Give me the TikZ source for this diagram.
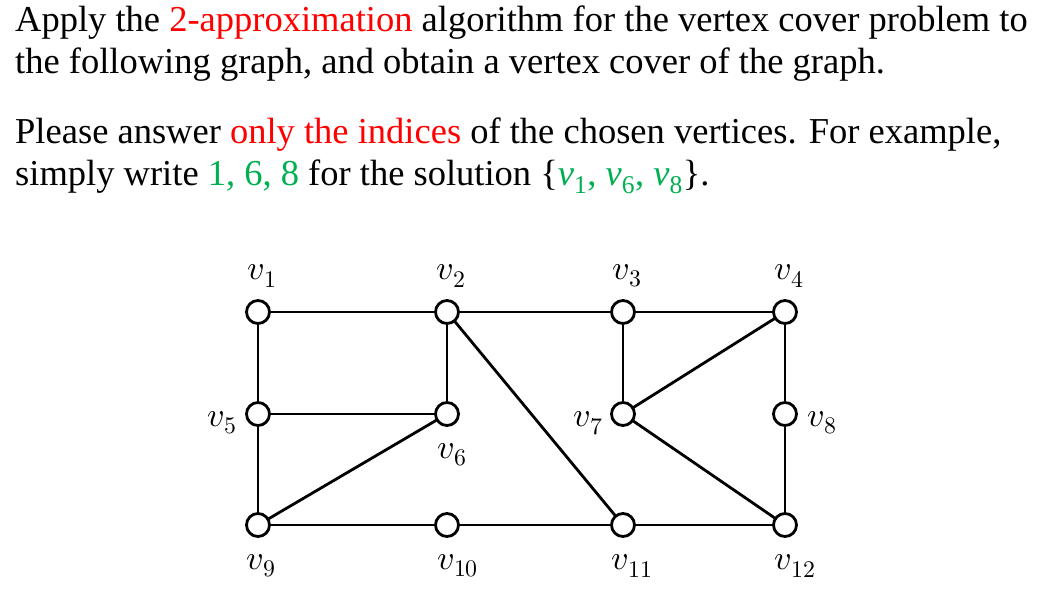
\documentclass[tikz,border=0pt]{standalone}
\usepackage{fontspec}
\setmainfont{Liberation Serif}
\newfontfamily\lmm{Latin Modern Math}
\definecolor{grn}{RGB}{0,176,80}
\definecolor{rd}{RGB}{255,0,0}
\newcommand{\vv}[1]{{\lmm 𝑣\textsubscript{#1}}}
\begin{document}
\begin{tikzpicture}[x=1pt,y=-1pt,
  vtx/.style={circle,draw,line width=2.8pt,fill=white,minimum size=23pt,inner sep=0},
  edge/.style={line width=2.8pt},
  txt/.style={anchor=base west,inner sep=0,font=\fontsize{36.5}{40}\selectfont},
  lab/.style={inner sep=0,font=\fontsize{34}{38}\selectfont}]
\useasboundingbox (0,0) rectangle (1047,614);
\node[txt] (t1) at (15,31) {Apply the \textcolor{rd}{2-approximation} algorithm for the vertex cover problem to};
\node[txt] (t2) at (15,73) {the following graph, and obtain a vertex cover of the graph.};
\node[txt] (t3) at (15,143) {Please answer \textcolor{rd}{only the indices} of the chosen vertices. For example,};
\node[txt] (t4) at (15,185) {simply write \textcolor{grn}{1, 6, 8} for the solution \{\textcolor{grn}{\textit{v}\textsubscript{1}, \textit{v}\textsubscript{6}, \textit{v}\textsubscript{8}}\}.};
\foreach \n/\x/\y in {1/258/312,2/447/312,3/623/312,4/785/312,5/258/414,6/447/414,7/623/414,8/785/414,9/258/525,10/447/525,11/623/525,12/785/525}
  \coordinate (c\n) at (\x,\y);
\foreach \a/\b in {1/2,2/3,3/4,1/5,2/6,2/11,3/7,4/7,4/8,5/6,6/9,5/9,7/12,8/12,9/10,10/11,11/12}
  \draw[edge] (c\a) -- (c\b);
\foreach \n in {1,...,12} \node[vtx] (v\n) at (c\n) {};
\node[lab] at (262,276) {\vv{1}};
\node[lab] at (451,276) {\vv{2}};
\node[lab] at (627,276) {\vv{3}};
\node[lab] at (789,276) {\vv{4}};
\node[lab] at (222,423) {\vv{5}};
\node[lab] at (452,455) {\vv{6}};
\node[lab] at (588,423) {\vv{7}};
\node[lab] at (822,423) {\vv{8}};
\node[lab] at (261,566) {\vv{9}};
\node[lab] at (458,566) {\vv{10}};
\node[lab] at (632,566) {\vv{11}};
\node[lab] at (795,566) {\vv{12}};
\end{tikzpicture}
\end{document}
